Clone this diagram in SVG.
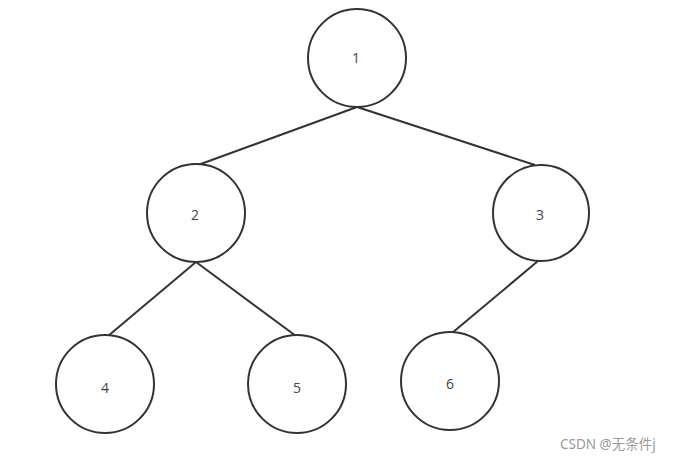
<svg xmlns="http://www.w3.org/2000/svg" width="686" height="462" viewBox="0 0 686 462">
<style>
.n{fill:#fff;stroke:#333;stroke-width:2}
.t{font-family:"Open Sans","Noto Sans",sans-serif;font-size:14px;fill:#444;text-anchor:middle;dominant-baseline:central}
.e{stroke:#333;stroke-width:2;fill:none}
.w{font-family:"Noto Sans","Noto Sans CJK SC",sans-serif;font-size:13.5px;fill:#999}
</style>
<rect width="686" height="462" fill="#fff"/>
<g id="edges">
<line class="e" x1="357" y1="107" x2="198" y2="165"/>
<line class="e" x1="357" y1="107" x2="535" y2="165"/>
<line class="e" x1="196" y1="262" x2="108" y2="336"/>
<line class="e" x1="196" y1="262" x2="296" y2="336"/>
<line class="e" x1="538" y1="261" x2="452" y2="333"/>
</g>
<g id="n1"><circle class="n" cx="357" cy="58" r="49"/><text class="t" x="356" y="57">1</text></g>
<g id="n2"><circle class="n" cx="196" cy="213" r="49"/><text class="t" x="195" y="214">2</text></g>
<g id="n3"><circle class="n" cx="541" cy="213" r="48"/><text class="t" x="540" y="214">3</text></g>
<g id="n4"><circle class="n" cx="105" cy="384" r="49"/><text class="t" x="105" y="387">4</text></g>
<g id="n5"><circle class="n" cx="297" cy="384" r="49"/><text class="t" x="297" y="387">5</text></g>
<g id="n6"><circle class="n" cx="450" cy="381" r="49"/><text class="t" x="450" y="383">6</text></g>
<text class="w" x="560" y="449">CSDN @无条件j</text>
</svg>
